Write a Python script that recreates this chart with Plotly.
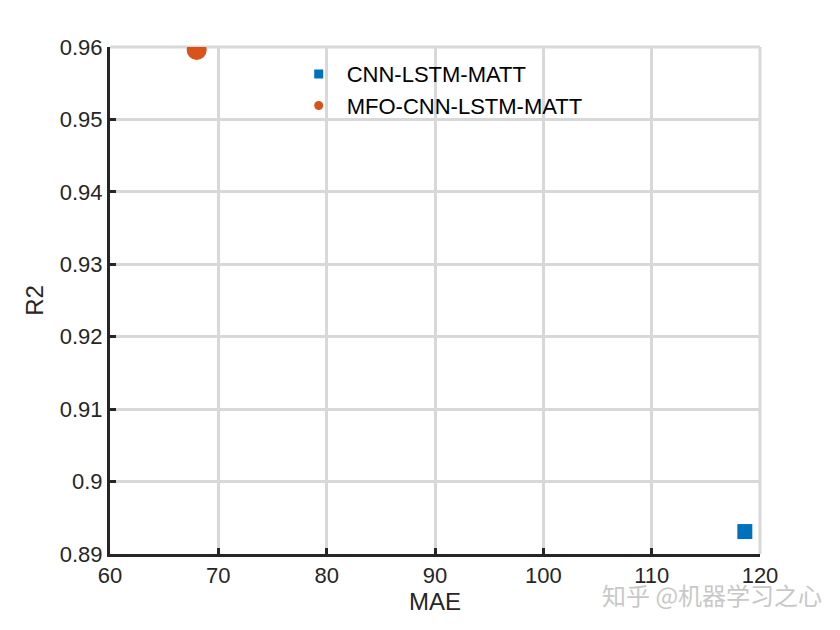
import plotly.graph_objects as go

series_names = ["CNN-LSTM-MATT", "MFO-CNN-LSTM-MATT"]
mae_values = [118.6, 68.0]
r2_values = [0.8931, 0.9596]
colors = ["#0072BD", "#D95319"]
symbols = ["square", "circle"]
marker_sizes = [15, 20]

x_ticks = [60, 70, 80, 90, 100, 110, 120]
y_ticks = [0.89, 0.90, 0.91, 0.92, 0.93, 0.94, 0.95, 0.96]
y_tick_labels = ["0.89", "0.9", "0.91", "0.92", "0.93", "0.94", "0.95", "0.96"]

fig = go.Figure()
for name, x, y, c, s, ms in zip(series_names, mae_values, r2_values, colors, symbols, marker_sizes):
    fig.add_trace(go.Scatter(x=[x], y=[y], mode="markers", name=name, showlegend=False,
                             marker=dict(color=c, symbol=s, size=ms, line=dict(width=0))))
    fig.add_trace(go.Scatter(x=[None], y=[None], mode="markers", name=name, showlegend=True,
                             marker=dict(color=c, symbol=s, size=9, line=dict(width=0))))

grid = "#D8D8D8"
fig.update_layout(
    width=840, height=630,
    margin=dict(l=102, r=88, t=39, b=84),
    plot_bgcolor="white", paper_bgcolor="white",
    font=dict(family="Liberation Sans, Arial, sans-serif", size=22, color="#262626"),
    xaxis=dict(range=[60, 120], tickvals=x_ticks, ticktext=[str(v) for v in x_ticks],
               showgrid=True, gridcolor=grid, gridwidth=3,
               showline=True, linecolor="#262626", linewidth=3,
               ticks="inside", ticklen=6, tickwidth=3, tickcolor="#262626",
               tickfont=dict(size=22),
               title=dict(text="MAE", font=dict(size=24), standoff=6), zeroline=False),
    yaxis=dict(range=[0.89, 0.96], tickvals=y_ticks, ticktext=y_tick_labels,
               showgrid=True, gridcolor=grid, gridwidth=3,
               showline=True, linecolor="#262626", linewidth=3,
               ticks="inside", ticklen=6, tickwidth=3, tickcolor="#262626",
               tickfont=dict(size=22),
               title=dict(text="R2", font=dict(size=24), standoff=10), zeroline=False),
    legend=dict(x=0.278, y=0.988, xanchor="left", yanchor="top", bgcolor="rgba(0,0,0,0)",
                font=dict(size=22, color="#000000"), itemsizing="trace", itemwidth=46,
                tracegroupgap=0),
    showlegend=True,
)
fig.add_shape(type="line", xref="paper", yref="paper", x0=0, x1=1, y0=1, y1=1,
              line=dict(color=grid, width=3), layer="below")
fig.add_shape(type="line", xref="paper", yref="paper", x0=1, x1=1, y0=0, y1=1,
              line=dict(color=grid, width=3), layer="below")
fig.add_annotation(text="知乎 @机器学习之心", xref="paper", yref="paper", x=1.0985, y=-0.08,
                   xanchor="right", yanchor="middle", showarrow=False,
                   font=dict(family="Noto Sans CJK SC", size=24, color="#C8C8C8"))
fig.write_html("out.html")
